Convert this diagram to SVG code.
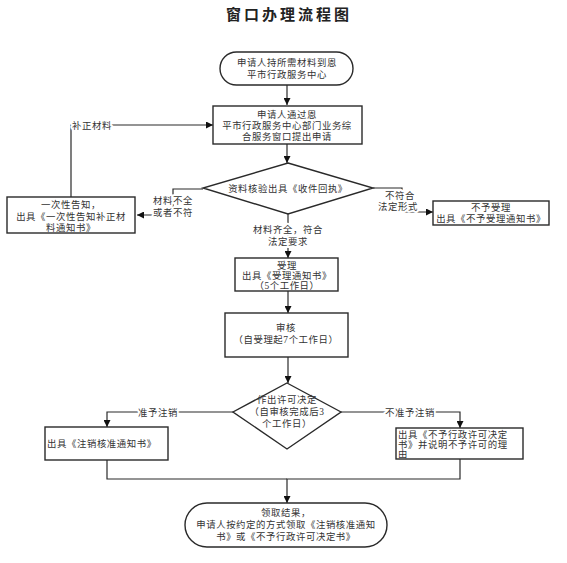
<svg xmlns="http://www.w3.org/2000/svg" width="567" height="563" viewBox="0 0 567 563">
<style>
  .bg { fill: #ffffff; }
  .shape { fill: #ffffff; stroke: #2a2a2a; stroke-width: 1.4; }
  .conn { fill: none; stroke: #2a2a2a; stroke-width: 1.2; }
  .t { font-family: "Liberation Serif", "Noto Sans CJK SC", serif; font-size: 9.4px; fill: #333333; letter-spacing: 0.6px; }
  .c { text-anchor: middle; }
  .lbl { paint-order: stroke; stroke: #ffffff; stroke-width: 4px; stroke-linejoin: round; }
  .title { font-family: "Noto Sans CJK SC", "Liberation Sans", sans-serif; font-size: 15px; font-weight: bold; fill: #222222; letter-spacing: 3px; text-anchor: middle; }
</style>
<defs>
  <marker id="arr" viewBox="0 0 10 10" refX="10" refY="5" markerWidth="7" markerHeight="7" markerUnits="userSpaceOnUse" orient="auto">
    <path d="M0,0 L10,5 L0,10 z" fill="#111111"/>
  </marker>
</defs>
<rect class="bg" x="0" y="0" width="567" height="563"/>
<text class="title" x="289" y="20">窗口办理流程图</text>

<g id="connectors">
  <path class="conn" d="M287,85 V105" marker-end="url(#arr)"/>
  <path class="conn" d="M287,144 V163" marker-end="url(#arr)"/>
  <path class="conn" d="M203,189 H173 V215 H137" marker-end="url(#arr)"/>
  <path class="conn" d="M71,197 V125 H213" marker-end="url(#arr)"/>
  <path class="conn" d="M373,188 H402 V212 H433" marker-end="url(#arr)"/>
  <path class="conn" d="M288,214 V258" marker-end="url(#arr)"/>
  <path class="conn" d="M288,291 V313" marker-end="url(#arr)"/>
  <path class="conn" d="M288,357 V383" marker-end="url(#arr)"/>
  <path class="conn" d="M233,412 H107 V427" marker-end="url(#arr)"/>
  <path class="conn" d="M341,412 H460 V428" marker-end="url(#arr)"/>
  <path class="conn" d="M107,460 V479 H287"/>
  <path class="conn" d="M460,459 V479 H287 V503" marker-end="url(#arr)"/>
  <text class="t c lbl" x="92" y="129">补正材料</text>
  <text class="t c lbl" x="173" y="204">材料不全</text>
  <text class="t c lbl" x="173" y="216">或者不符</text>
  <text class="t c lbl" x="400" y="199">不符合</text>
  <text class="t c lbl" x="398" y="210">法定形式</text>
  <text class="t c lbl" x="288" y="233">材料齐全，符合</text>
  <text class="t c lbl" x="288" y="245">法定要求</text>
  <text class="t c lbl" x="158" y="416">准予注销</text>
  <text class="t c lbl" x="410" y="416">不准予注销</text>
</g>

<g id="start">
  <rect class="shape" x="220" y="52" width="133" height="33" rx="16.5"/>
  <text class="t c" x="287" y="66">申请人持所需材料到恩</text>
  <text class="t c" x="287" y="78">平市行政服务中心</text>
</g>

<g id="apply">
  <rect class="shape" x="213" y="106" width="149" height="38"/>
  <text class="t c" x="287" y="118">申请人通过恩</text>
  <text class="t c" x="287" y="129">平市行政服务中心部门业务综</text>
  <text class="t c" x="287" y="140">合服务窗口提出申请</text>
</g>

<g id="check">
  <polygon class="shape" points="288,163 373,188 288,214 203,188"/>
  <text class="t c" x="288" y="192">资料核验出具《收件回执》</text>
</g>

<g id="notify">
  <rect class="shape" x="7" y="197" width="128" height="36"/>
  <text class="t c" x="71" y="208">一次性告知，</text>
  <text class="t c" x="71" y="220">出具《一次性告知补正材</text>
  <text class="t c" x="71" y="231">料通知书》</text>
</g>

<g id="reject">
  <rect class="shape" x="433" y="201" width="116" height="24"/>
  <text class="t c" x="491" y="211">不予受理</text>
  <text class="t c" x="491" y="222">出具《不予受理通知书》</text>
</g>

<g id="accept">
  <rect class="shape" x="235" y="258" width="103" height="33"/>
  <text class="t c" x="287" y="268.5">受理</text>
  <text class="t c" x="287" y="279">出具《受理通知书》</text>
  <text class="t c" x="287" y="289">（5个工作日）</text>
</g>

<g id="review">
  <rect class="shape" x="225" y="313" width="123" height="44"/>
  <text class="t c" x="286" y="331">审核</text>
  <text class="t c" x="286" y="343">（自受理起7个工作日）</text>
</g>

<g id="decide">
  <polygon class="shape" points="287,383 341,412 287,449 233,412"/>
  <text class="t c" x="287" y="403">作出许可决定</text>
  <text class="t c" x="287" y="415">（自审核完成后3</text>
  <text class="t c" x="287" y="427">个工作日）</text>
</g>

<g id="approve">
  <rect class="shape" x="45" y="427" width="123" height="33"/>
  <text class="t" x="47" y="447">出具《注销核准通知书》</text>
</g>

<g id="deny">
  <rect class="shape" x="396" y="428" width="127" height="31"/>
  <text class="t" x="398" y="438">出具《不予行政许可决定</text>
  <text class="t" x="398" y="447.5">书》并说明不予许可的理</text>
  <text class="t" x="398" y="457">由</text>
</g>

<g id="end">
  <rect class="shape" x="185" y="503" width="202" height="44" rx="22"/>
  <text class="t c" x="286" y="516">领取结果，</text>
  <text class="t c" x="286" y="528">申请人按约定的方式领取《注销核准通知</text>
  <text class="t c" x="286" y="540">书》或《不予行政许可决定书》</text>
</g>
</svg>
